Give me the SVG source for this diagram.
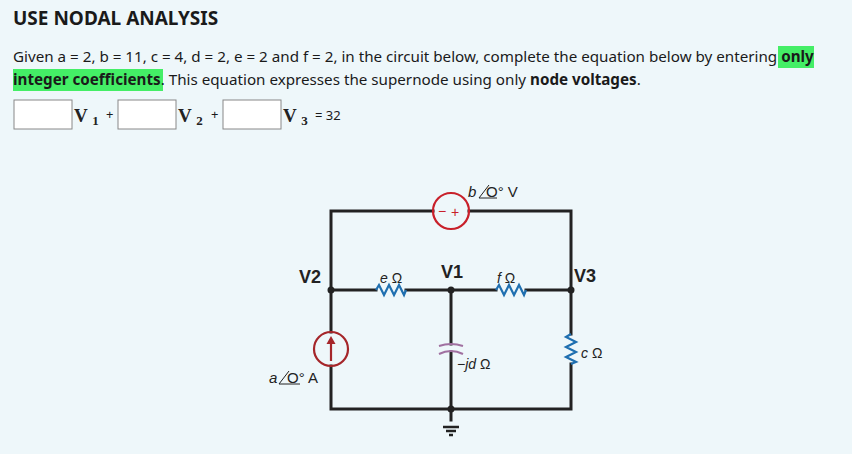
<svg xmlns="http://www.w3.org/2000/svg" width="852" height="454" viewBox="0 0 852 454">
<style>
.t{font-family:"Noto Sans","Open Sans",sans-serif;fill:#1a1a1a}
.w{stroke:#222;stroke-width:3;fill:none;stroke-linecap:square}
.r{stroke:#1f6fb0;stroke-width:2.2;fill:none}
.box{fill:#fff;stroke:#888;stroke-width:1}
.lab{font-family:"Liberation Sans",Arial,sans-serif;fill:#222}
.v{font-family:"Liberation Serif",serif;font-weight:bold;font-size:19px;fill:#222}
</style>
<rect width="852" height="454" fill="#eef7fa"/>
<g id="text">
<text class="t" x="13" y="25" font-size="19" font-weight="bold">USE NODAL ANALYSIS</text>
<rect x="778" y="46" width="36" height="22" fill="#44ee66"/>
<text class="t" x="13" y="62" font-size="15.2">Given a = 2, b = 11, c = 4, d = 2, e = 2 and f = 2, in the circuit below, complete the equation below by entering <tspan font-weight="bold">only</tspan></text>
<rect x="13" y="69" width="150" height="22" fill="#44ee66"/>
<text class="t" x="13" y="85" font-size="15.2"><tspan font-weight="bold">integer coefficients</tspan>. This equation expresses the supernode using only <tspan font-weight="bold">node voltages</tspan>.</text>
<rect class="box" x="14" y="100" width="58" height="29"/>
<text class="v" x="74" y="122">V <tspan font-size="13" dy="3">1</tspan></text>
<text class="t" x="106" y="119" font-size="13">+</text>
<rect class="box" x="118" y="100" width="58" height="29"/>
<text class="v" x="178" y="122">V <tspan font-size="13" dy="3">2</tspan></text>
<text class="t" x="211" y="119" font-size="13">+</text>
<rect class="box" x="223" y="100" width="58" height="29"/>
<text class="v" x="283" y="122">V <tspan font-size="13" dy="3">3</tspan></text>
<text class="t" x="315" y="120" font-size="13">= 32</text>
</g>
<g id="connectors">
<path class="w" d="M433 211H331V290M469 211H571V290M331 290H376M406 290H496M526 290H571M331 290V332M331 366V409H571V364M571 290V334M451 290V344M451 352V420"/>
</g>
<g id="vsrc"><circle cx="451" cy="211" r="18" fill="none" stroke="#c8202a" stroke-width="2.2"/>
<text x="438" y="216" font-size="14" fill="#c8202a" font-family="Liberation Sans,sans-serif">−</text><text x="451" y="217" font-size="14" fill="#c8202a" font-family="Liberation Sans,sans-serif">+</text>
<text class="lab" x="468" y="197" font-size="15" font-style="italic">b</text><path d="M479 198L489 185M479 198H497" stroke="#222" fill="none"/><text class="lab" x="486" y="197" font-size="15">O° V</text></g>
<g id="isrc"><circle cx="331" cy="349" r="17" fill="none" stroke="#a5262a" stroke-width="2.2"/>
<path d="M331 361V342" stroke="#a5262a" stroke-width="2.2"/><path d="M326.5 344L331 336L335.5 344Z" fill="#a5262a"/>
<text class="lab" x="269" y="383" font-size="15" font-style="italic">a</text><path d="M279 384L289 371M279 384H300" stroke="#222" fill="none"/><text class="lab" x="287" y="383" font-size="15">O° A</text></g>
<g id="re"><path class="r" d="M376 290l3-5l5 10l5-10l5 10l5-10l5 10l2-5"/><text class="lab" x="380" y="283" font-size="14"><tspan font-style="italic">e</tspan> Ω</text></g>
<g id="rf"><path class="r" d="M496 290l3-5l5 10l5-10l5 10l5-10l5 10l2-5"/><text class="lab" x="497" y="283" font-size="14"><tspan font-style="italic">f</tspan> Ω</text></g>
<g id="rc"><path class="r" d="M571 334l-5 3l10 5l-10 5l10 5l-10 5l10 5l-5 2"/><text class="lab" x="581" y="358" font-size="14"><tspan font-style="italic">c</tspan> Ω</text></g>
<g id="cap"><path d="M439 346Q451 342 463 346M439 354Q451 348 463 354" stroke="#a070a0" stroke-width="2" fill="none"/><text class="lab" x="457" y="369" font-size="14"><tspan font-style="italic">−jd</tspan> Ω</text></g>
<g id="nodes" fill="#222"><circle cx="331" cy="290" r="3.5"/><circle cx="451" cy="290" r="3.5"/><circle cx="571" cy="290" r="3.5"/><circle cx="451" cy="409" r="3.5"/>
<text class="lab" x="299" y="283" font-size="18" font-weight="bold">V2</text><text class="lab" x="441" y="278" font-size="18" font-weight="bold">V1</text><text class="lab" x="574" y="282" font-size="18" font-weight="bold">V3</text></g>
<g id="ground" stroke="#222" stroke-width="2.5"><path d="M443 427H459M446 431H456M449 435H453"/></g>
</svg>
